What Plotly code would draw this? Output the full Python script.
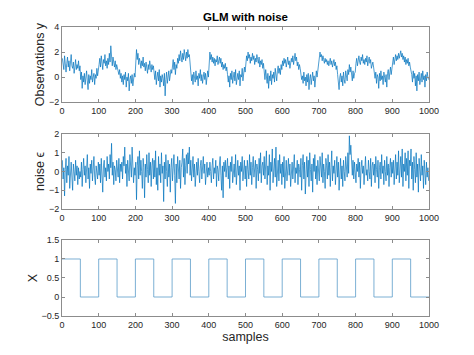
import plotly.graph_objects as go

# sample positions (every second sample of 1..1000)
samples = list(range(1, 1001, 2))

# Observations y
y_obs = [
 1.5, 1.2, 0.6, 1.7, 0.9, 0.4, 1.1, 1.6, 0.8, 1.3, 0.5, 1.0, 1.8, 0.9, 0.7, 1.2, 0.3, 0.8, 1.4, 0.6, 1.0, 0.7, 1.3, 0.5, 0.9,
 -0.2, 0.4, -0.9, 0.1, -0.4, 0.3, -0.6, 0.0, 0.5, -0.3, -1.0, 0.2, -0.5, 0.1, -0.2, 0.6, -0.4, 0.0, 0.3, -0.6, 0.2, -0.1, 0.7, 0.1, 0.4,
 1.0, 1.5, 0.8, 1.7, 1.2, 0.6, 1.4, 1.1, 1.8, 0.9, 1.3, 0.7, 1.5, 1.0, 1.9, 1.2, 2.5, 1.4, 0.9, 1.6, 1.1, 0.8, 1.3, 0.6, 1.0,
 0.8, 0.5, 0.2, 0.6, -0.1, 0.3, -0.4, 0.1, -0.6, 0.2, -0.2, 0.4, -0.8, 0.0, -0.3, 0.3, -1.1, -0.2, 0.1, -0.5, 0.2, -0.7, -0.1, 0.3, 0.0,
 1.6, 2.2, 1.4, 1.9, 1.0, 1.5, 1.2, 0.7, 1.3, 0.9, 1.6, 0.8, 1.1, 0.5, 1.2, 0.9, 0.3, 1.0, 0.6, 1.3, 0.7, 0.4, 1.0, 0.6, 0.9,
 0.3, -0.2, 0.5, -0.6, 0.0, 0.4, -0.3, 0.6, -0.8, 0.1, -0.4, 0.2, -0.1, -0.7, 0.3, -1.5, -0.2, 0.4, -0.5, 0.1, 0.5, -0.3, 0.2, 0.6, 0.3,
 0.9, 1.4, 0.6, 1.2, 0.2, 1.0, 0.7, 1.5, 1.1, 1.8, 1.3, 2.1, 1.6, 1.2, 1.9, 1.4, 2.2, 1.7, 1.3, 2.0, 1.5, 2.2, 1.6, 1.8, 1.1,
 0.3, -0.3, 0.2, -0.6, 0.4, 0.0, -0.4, 0.5, -0.2, 0.1, -0.7, 0.3, -0.1, 0.6, -0.3, 0.2, -0.5, 0.0, 0.4, -0.2, 0.3, -0.6, 0.1, 0.5, 0.0,
 1.6, 2.0, 1.4, 1.8, 1.2, 1.6, 1.1, 1.5, 0.9, 1.4, 1.2, 1.7, 1.0, 1.3, 1.6, 1.1, 1.5, 0.8, 1.2, 0.6, 1.0, 0.7, 1.1, 0.5, 0.8,
 0.2, -0.4, 0.1, -0.8, 0.3, -0.2, 0.5, -0.5, 0.0, 0.4, -0.3, 0.6, -0.6, 0.1, 0.3, -0.2, 0.5, -0.7, 0.2, 0.0, 0.7, -0.3, 0.3, 0.8, 0.4,
 1.2, 1.7, 1.3, 2.0, 1.5, 1.8, 1.1, 1.6, 1.3, 1.9, 1.4, 1.7, 1.0, 1.5, 1.2, 1.8, 1.4, 1.1, 1.6, 0.8, 1.3, 1.0, 1.4, 0.7, 1.1,
 0.4, -0.2, 0.6, 0.0, -0.5, 0.3, -0.9, 0.1, -0.3, 0.5, -0.6, 0.2, -0.1, 0.4, -0.4, 0.7, 0.1, -0.3, 0.5, 0.9, 0.3, 0.7, 0.2, 1.0, 0.6,
 1.3, 0.9, 1.5, 1.1, 1.4, 0.8, 1.2, 1.6, 1.0, 1.3, 0.7, 1.1, 1.5, 1.2, 1.7, 1.0, 1.4, 1.9, 1.3, 1.6, 0.9, 1.2, 0.6, 1.0, 0.7,
 0.3, -0.2, 0.1, -0.5, 0.4, -0.3, 0.0, -0.7, 0.2, -0.4, 0.3, -1.0, -0.1, 0.2, -0.6, 0.0, 0.4, -0.3, 0.1, -0.8, 0.2, 0.5, 0.0, 0.6, 0.9,
 1.5, 2.0, 1.6, 1.8, 1.3, 1.7, 1.4, 1.1, 1.5, 1.2, 1.4, 1.0, 1.3, 0.9, 1.2, 1.5, 1.0, 1.3, 0.8, 1.1, 1.4, 0.9, 1.2, 0.6, 0.9,
 0.2, -0.6, -1.0, 0.0, 0.3, -0.4, 0.1, -0.7, 0.4, -0.2, -0.5, 0.5, 0.0, -0.3, 0.6, 0.2, 1.0, 0.4, 0.8, 0.1, -0.3, 0.5, -0.1, 0.3, 0.4,
 1.1, 1.5, 0.9, 1.3, 1.7, 1.2, 1.0, 1.6, 1.3, 1.8, 1.1, 1.4, 1.0, 1.5, 1.2, 1.7, 0.9, 1.3, 1.6, 1.1, 1.4, 0.7, 1.0, 1.2, 0.8,
 0.3, -0.1, 0.4, -0.5, 0.2, 0.0, -0.9, 0.3, -0.3, 0.5, -0.2, 0.1, -0.6, 0.4, 0.0, -0.4, 0.2, -0.8, 0.3, 0.6, -0.2, 0.4, 0.8, 0.2, 0.6,
 1.2, 1.6, 1.0, 1.5, 1.8, 1.3, 1.7, 1.4, 1.9, 1.5, 1.8, 2.1, 1.6, 1.9, 1.4, 1.7, 1.2, 1.6, 1.0, 1.4, 1.1, 1.5, 0.9, 1.2, 0.8,
 0.6, 0.2, -0.4, 0.5, -0.1, 0.3, -0.7, 0.1, -1.1, 0.2, -0.3, 0.4, -0.6, 0.0, 0.3, -0.4, 0.5, -0.2, 0.1, -0.8, 0.2, -0.3, 0.4, 0.0, -0.2,
]

# noise epsilon
noise = [
 0.6, -0.4, 0.2, -1.3, 0.1, 0.7, -0.6, 0.3, -0.2, 0.8, -0.9, 0.0, 0.5, -0.3, -1.0, 0.4, 0.1, -0.5, 0.6, -0.2, 0.3, -0.7, 0.2, -0.4, 0.0,
 -0.3, 0.5, -0.8, 0.1, 0.7, -0.2, 0.3, -0.6, 0.0, 0.9, -0.4, 0.2, -0.9, 0.4, -0.1, 0.6, -0.5, 0.1, 0.8, -0.3, -0.7, 0.3, 0.0, -0.4, 0.5,
 -0.2, 0.4, -0.6, 0.7, 0.1, -1.1, 0.3, 0.6, -0.3, 0.2, -0.5, 0.8, 0.0, 0.4, -0.4, 0.9, 0.2, 1.5, -0.2, 0.5, -0.7, 0.3, 0.1, -0.5, 0.6,
 0.2, -0.3, 0.7, -0.6, 0.4, 0.0, 0.5, -0.4, 0.8, 0.3, 1.3, -0.1, 0.4, -0.8, 0.6, 0.1, -0.5, 0.9, 0.2, -0.3, 1.3, 0.4, -0.6, 0.2, -0.2,
 0.5, -1.5, 0.3, 0.8, -0.4, 1.1, -0.2, 0.6, 0.0, -0.9, 0.7, 0.2, -1.4, 0.4, -0.3, 0.9, 0.1, -0.6, 1.0, -0.2, 0.5, -0.8, 0.3, 0.7, -0.4,
 0.6, -0.3, 1.1, -0.7, 0.2, -1.0, 0.8, -0.2, 0.4, -0.6, 1.0, -0.1, 0.3, -1.6, 0.5, -0.4, 0.9, 0.0, -0.8, 0.6, -0.3, 0.4, -1.1, 0.2, 0.7,
 -0.5, 0.3, 0.9, -0.2, -1.7, 0.4, -0.6, 0.8, 0.1, -0.4, 0.6, -0.9, 0.2, 0.5, 1.2, -0.3, 0.7, -0.7, 0.3, 0.9, -0.1, 1.0, 0.4, 1.3, -0.2,
 0.6, -0.5, 0.2, 0.8, -0.3, 0.4, -0.8, 0.1, 0.5, -0.2, 0.7, 0.0, -0.6, 0.3, 0.6, -0.4, 0.2, 0.8, -0.1, 0.4, -0.7, 0.1, 0.5, -0.3, 0.2,
 -0.2, 0.5, 0.0, -0.6, 0.3, 0.7, -0.4, 0.2, -0.1, 0.6, -0.8, 0.3, 0.1, -0.5, 0.4, 0.8, -0.2, -1.0, 0.3, -1.4, 0.5, 0.0, 0.6, -0.3, 0.2,
 0.7, -0.4, 0.3, -0.9, 0.5, 0.0, 0.8, -0.6, 0.2, 0.4, -0.3, 0.9, -0.7, 0.1, 0.6, -0.2, 0.3, -1.0, 0.5, 0.0, 0.8, -0.5, 0.2, 0.6, -0.4,
 0.3, -0.8, 0.6, 0.1, -0.4, 0.9, -0.2, 0.5, -0.7, 0.2, 0.8, -0.3, 0.0, 0.6, -0.9, 0.4, 0.1, -0.5, 0.7, -0.1, 1.0, -0.6, 0.3, 0.5, -0.2,
 0.8, -0.4, 0.2, 1.1, -0.7, 0.3, -0.2, 0.9, -1.0, 0.5, 0.0, 1.2, -0.6, 0.4, 0.7, -0.3, 1.3, -0.8, 0.2, 0.6, -0.5, 0.9, -0.1, 0.4, -0.7,
 0.5, -0.3, 0.8, -0.9, 0.2, 0.6, -0.5, 0.1, 0.7, -0.2, 0.4, -0.8, 0.0, 0.5, -0.4, 0.3, 0.9, -0.6, 0.2, -0.1, 0.6, -0.7, 0.4, 0.1, -0.3,
 0.7, -1.0, 0.3, 0.9, -0.4, 0.5, -1.2, 0.2, 0.8, -0.3, 0.6, -0.8, 1.0, 0.1, -0.5, 0.4, -1.1, 0.7, 0.0, 0.9, -0.4, 0.3, -0.7, 0.6, 0.2,
 -0.5, 0.8, 0.1, -0.3, 1.0, -0.6, 0.4, 0.0, -0.9, 0.7, 0.3, -0.4, 0.9, -0.2, 0.5, -0.8, 0.2, 1.1, -0.5, 0.3, -0.1, 0.6, -0.7, 0.4, 0.8,
 -0.3, 0.5, -1.0, 0.2, 0.7, -0.4, 0.3, -0.8, 0.6, 0.0, -0.5, 0.8, 0.2, -0.3, 1.0, -0.1, 1.9, 0.9, 1.4, 0.3, -0.2, 0.6, -0.4, 0.5, 0.1,
 -0.6, 0.4, 0.0, 0.7, -0.3, 0.5, -0.9, 0.2, 0.6, -0.1, 0.3, -0.7, 0.4, 0.8, -0.2, 0.1, -0.5, 0.6, 0.0, -0.4, 0.7, -0.8, 0.3, 0.5, -0.2,
 0.4, -0.6, 0.8, 0.1, -0.3, 0.6, -0.9, 0.2, 0.5, -0.4, 0.9, -0.1, 0.3, -0.7, 0.6, 0.0, -0.5, 0.8, -0.2, 0.4, -0.8, 0.2, 0.7, -0.3, 0.5,
 -0.1, 0.6, -0.7, 0.3, 0.9, -0.4, 0.5, -0.2, 1.1, -0.6, 0.2, 0.8, -0.3, 1.2, -0.8, 0.4, 0.0, 1.0, -0.5, 0.7, -0.2, 1.1, -0.9, 0.6, 0.3,
 1.2, -0.4, 0.5, -1.0, 0.8, 0.1, -0.6, 1.0, -0.3, 0.4, -1.1, 0.7, 0.2, -0.5, 0.9, -0.2, 0.3, -0.9, 0.6, 0.0, -0.7, 0.5, -0.3, 0.2, -0.5,
]

# design regressor X: block edges and levels (step function)
x_edges = [0, 50, 100, 150, 200, 250, 300, 350, 400, 450, 500,
           550, 600, 650, 700, 750, 800, 850, 900, 950, 1000]
x_levels = [1, 0, 1, 0, 1, 0, 1, 0, 1, 0, 1, 0, 1, 0, 1, 0, 1, 0, 1, 0, 0]

x_ticks = [0, 100, 200, 300, 400, 500, 600, 700, 800, 900, 1000]

LINE = "#0072BD"
AX = "#8c8c8c"
TXT = "#262626"
FONT = "Liberation Sans, Arial, sans-serif"

# page body has an 8px default margin, so the figure is 466x347
W, H = 466, 347

fig = go.Figure()
fig.add_trace(go.Scatter(x=samples, y=y_obs, mode="lines",
                         line=dict(color=LINE, width=0.7), xaxis="x", yaxis="y"))
fig.add_trace(go.Scatter(x=samples, y=noise, mode="lines",
                         line=dict(color=LINE, width=0.7), xaxis="x2", yaxis="y2"))
fig.add_trace(go.Scatter(x=x_edges, y=x_levels, mode="lines", line_shape="hv",
                         line=dict(color="#5a9cc9", width=0.8), xaxis="x3", yaxis="y3"))

def xax(anchor, title=None):
    d = dict(range=[0, 1000], tickvals=x_ticks, ticks="inside", ticklen=3,
             tickcolor=AX, showline=True, linecolor=AX, linewidth=1, mirror="ticks",
             showgrid=False, zeroline=False, anchor=anchor, automargin=False,
             tickfont=dict(size=9, color=TXT, family=FONT), domain=[0, 1])
    if title:
        d["title"] = dict(text=title, font=dict(size=12.5, color=TXT, family=FONT), standoff=2)
    return d

def yax(rng, ticks, domain, title, anchor):
    return dict(range=rng, tickvals=ticks, ticks="inside", ticklen=3,
                tickcolor=AX, showline=True, linecolor=AX, linewidth=1, mirror="ticks",
                showgrid=False, zeroline=False, anchor=anchor, domain=domain,
                automargin=False,
                tickfont=dict(size=9, color=TXT, family=FONT),
                title=dict(text=title, font=dict(size=12.5, color=TXT, family=FONT), standoff=1))

fig.update_layout(
    width=W, height=H, autosize=False,
    margin=dict(l=54, r=45, t=19, b=39),
    paper_bgcolor="white", plot_bgcolor="white",
    showlegend=False,
    xaxis=xax("y"),
    yaxis=yax([-2, 4], [-2, 0, 2, 4], [0.74, 1.0], "Observations y", "x"),
    xaxis2=xax("y2"),
    yaxis2=yax([-2, 2], [-2, -1, 0, 1, 2], [0.37, 0.63], "noise ϵ", "x2"),
    xaxis3=xax("y3", "samples"),
    yaxis3=yax([-0.5, 1.5], [-0.5, 0, 0.5, 1, 1.5], [0.0, 0.263], "X", "x3"),
    title=dict(text="<b>GLM with noise</b>", x=0.5, xanchor="center", xref="paper",
               y=1 - 9 / H, yref="container", yanchor="middle",
               font=dict(size=11.5, color="black", family=FONT)),
)

fig.write_html("out.html")
